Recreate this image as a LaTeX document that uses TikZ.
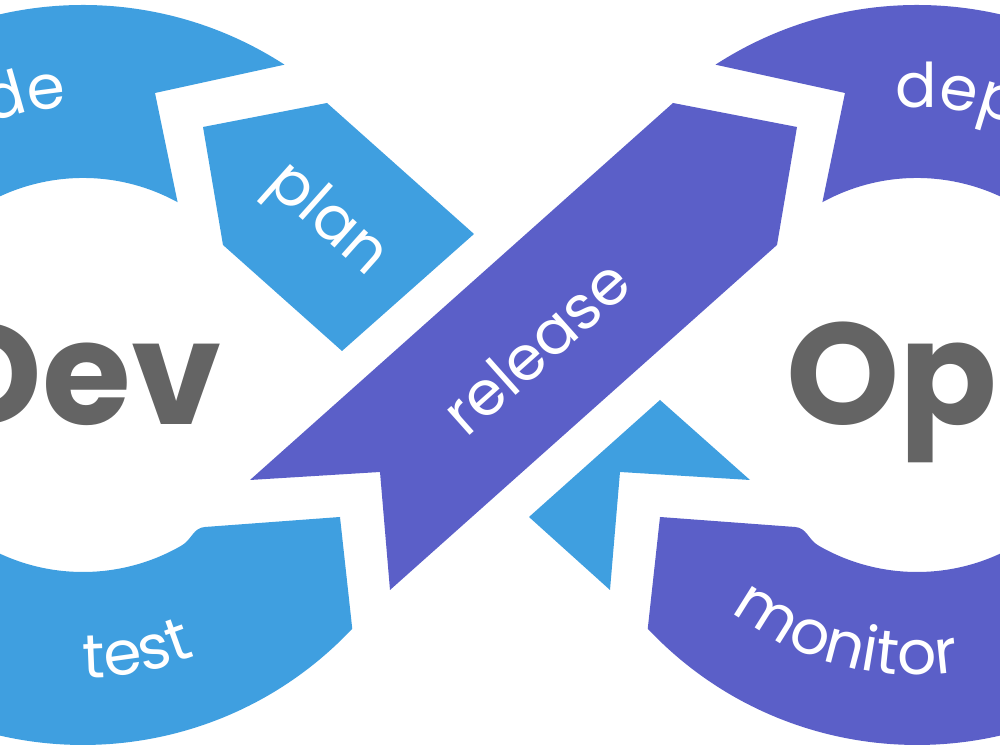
\documentclass[tikz,border=0pt]{standalone}
\usepackage{fontspec}
\setmainfont{Poppins}
\usepackage{xcolor}
\usetikzlibrary{positioning,decorations.text}
\definecolor{devblue}{HTML}{3F9FE0}
\definecolor{opspurple}{HTML}{5B5FC8}
\definecolor{logogray}{HTML}{646464}
\newcommand\lblfont{\fontsize{17.5}{20}\selectfont}

\begin{document}
\begin{tikzpicture}[x=0.1mm, y=0.1mm,
        devpart/.style={fill=devblue},
        opspart/.style={fill=opspurple},
        word/.style={text=white, font=\lblfont, inner sep=0pt},
        curved/.style={decorate, decoration={text along path, text align=center,
                       text color=white, text={|\lblfont|#1}}},
        big/.style={text=logogray, font=\fontsize{41}{45}\selectfont\bfseries,
                    inner sep=0pt}]
        \useasboundingbox (0,0) rectangle (1000,750);
        \clip (0,0) rectangle (1000,750);
        \coordinate (cl) at (83,375);
        \coordinate (cr) at (917,375);
        % left loop
        \fill[devpart] ([shift={(180:370)}]cl) arc[start angle=180, end angle=57, radius=370]
          -- (155,657) -- ([shift={(61.3:197)}]cl)
          arc[start angle=61.3, end angle=180, radius=197] -- cycle;
        \fill[devpart] ([shift={(180:197)}]cl) arc[start angle=180, end angle=300, radius=197]
          .. controls +(30:12) and +(184:12) .. (205,223) -- (340,233)
          -- ([shift={(-43.3:370)}]cl) arc[start angle=-43.3, end angle=-180, radius=370] -- cycle;
        % right loop
        \fill[opspart] ([shift={(0:370)}]cr) arc[start angle=0, end angle=123, radius=370]
          -- (845,657) -- ([shift={(118.7:197)}]cr)
          arc[start angle=118.7, end angle=0, radius=197] -- cycle;
        \fill[opspart] ([shift={(0:197)}]cr) arc[start angle=0, end angle=-120, radius=197]
          .. controls +(150:12) and +(-4:12) .. (795,223) -- (660,233)
          -- ([shift={(223.3:370)}]cr) arc[start angle=223.3, end angle=360, radius=370] -- cycle;
        % plan, cut in two by release
        \fill[devpart] (203,623) -- (327,647) -- (474,516) -- (342,399) -- (223,505) -- cycle;
        \fill[devpart] (529,233) -- (660,350) -- (750,270) -- (620,278) -- (610,160) -- cycle;
        % release
        \fill[opspart] (250,270) -- (673,647) -- (797,623) -- (777,505)
          -- (390,160) -- (380,278) -- cycle;
        % labels
        \node[word, rotate=-41.7] (plan) at (326,529) {plan};
        \node[word, rotate=41.7] (release) at (536,403) {release};
        \node[big, anchor=base east] (dev) at (222,325) {Dev};
        \node[big, anchor=base west] (ops) at (786,325) {Ops};
        \path[curved=code] ([shift={(140:268)}]cl) arc[start angle=140, end angle=80, radius=268];
        \path[curved=deploy] ([shift={(102:268)}]cr) arc[start angle=102, end angle=42, radius=268];
        \path[curved=test] ([shift={(-109:303)}]cl) arc[start angle=-109, end angle=-49, radius=303];
        \path[curved=monitor] ([shift={(225:300)}]cr) arc[start angle=225, end angle=285, radius=300];
      \end{tikzpicture}
\end{document}
